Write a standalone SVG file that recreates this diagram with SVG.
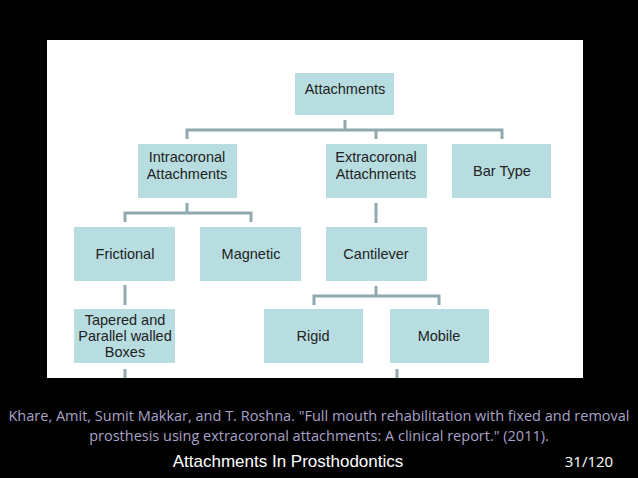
<svg xmlns="http://www.w3.org/2000/svg" width="638" height="478" viewBox="0 0 638 478">
<style>
.b{fill:#b7dde1}
.t{font-family:"Liberation Sans",Arial,sans-serif;font-size:14.5px;fill:#222;text-anchor:middle}
.c{stroke:#8fa9ae;stroke-width:3;fill:none}
.f{font-family:"Open Sans","Liberation Sans",sans-serif;font-size:14.5px;fill:#a9a3c8;text-anchor:middle}
</style>
<rect width="638" height="478" fill="#000"/>
<rect x="47" y="40" width="536" height="338" fill="#fff"/>
<g id="connectors" class="c">
<path d="M345 120V130M187 139V130H502V139M376 130V139"/>
<path d="M187 203V213M125 222V213H251V222"/>
<path d="M376 203V223"/>
<path d="M125 285V305"/>
<path d="M376 286V296M314 305V296H439V305"/>
<path d="M125 369V378M397 369V378"/>
</g>
<g id="attachments"><rect class="b" x="295" y="73" width="99" height="42"/><text class="t" x="345" y="94">Attachments</text></g>
<g id="intracoronal"><rect class="b" x="138" y="144" width="99" height="54"/><text class="t" x="187" y="162">Intracoronal</text><text class="t" x="187" y="179">Attachments</text></g>
<g id="extracoronal"><rect class="b" x="326" y="144" width="101" height="54"/><text class="t" x="376" y="162">Extracoronal</text><text class="t" x="376" y="179">Attachments</text></g>
<g id="bartype"><rect class="b" x="452" y="144" width="99" height="54"/><text class="t" x="502" y="176">Bar Type</text></g>
<g id="frictional"><rect class="b" x="74" y="227" width="101" height="54"/><text class="t" x="125" y="259">Frictional</text></g>
<g id="magnetic"><rect class="b" x="200" y="227" width="101" height="54"/><text class="t" x="251" y="259">Magnetic</text></g>
<g id="cantilever"><rect class="b" x="326" y="227" width="101" height="54"/><text class="t" x="376" y="259">Cantilever</text></g>
<g id="tapered"><rect class="b" x="74" y="309" width="101" height="54"/><text class="t" x="125" y="325">Tapered and</text><text class="t" x="125" y="341">Parallel walled</text><text class="t" x="125" y="357">Boxes</text></g>
<g id="rigid"><rect class="b" x="264" y="309" width="99" height="54"/><text class="t" x="313" y="341">Rigid</text></g>
<g id="mobile"><rect class="b" x="390" y="309" width="99" height="54"/><text class="t" x="439" y="341">Mobile</text></g>
<text class="f" x="319" y="421">Khare, Amit, Sumit Makkar, and T. Roshna. "Full mouth rehabilitation with fixed and removal</text>
<text class="f" x="319" y="441">prosthesis using extracoronal attachments: A clinical report." (2011).</text>
<text x="288" y="467" font-family="Liberation Sans,Arial,sans-serif" font-size="17" fill="#fff" text-anchor="middle">Attachments In Prosthodontics</text>
<text x="589" y="467" font-family="Open Sans,Liberation Sans,sans-serif" font-size="15" fill="#fff" text-anchor="middle">31/120</text>
</svg>
